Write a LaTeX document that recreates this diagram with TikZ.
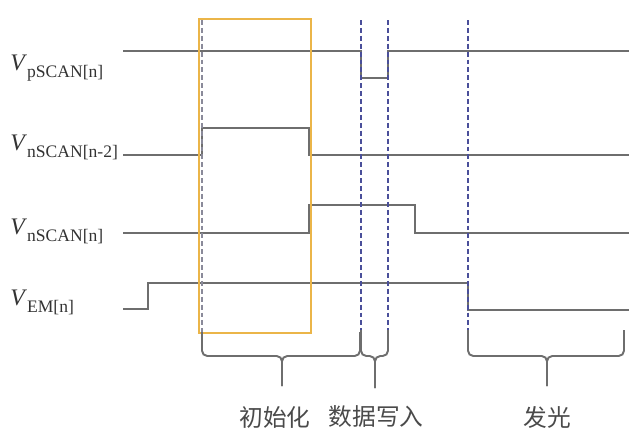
\documentclass[tikz,border=0pt]{standalone}
\usepackage{fontspec}
\setmainfont{Liberation Serif}
\newfontfamily\cjk{Noto Sans CJK SC}
\definecolor{sig}{HTML}{6E6E6E}
\definecolor{boxor}{HTML}{EBB548}
\definecolor{dnavy}{HTML}{4A4F9A}
\definecolor{dgray}{HTML}{8A8A9A}
\definecolor{lbl}{HTML}{4A4A4A}
\begin{document}
\begin{tikzpicture}[x=0.02cm,y=-0.02cm,
  signal/.style={draw=sig,line width=1.1pt},
  guide/.style={draw=dnavy,line width=1.1pt,dash pattern=on 2.8pt off 1.7pt},
  bracepath/.style={draw=sig,line width=1.1pt,rounded corners=3pt},
  vlabel/.style={anchor=base west,inner sep=0pt,text=black!80},
  phase/.style={font=\cjk\fontsize{13.5}{14}\selectfont,text=lbl,inner sep=0pt}]
\useasboundingbox (0,0) rectangle (642,436);
% signal labels
\newcommand{\siglabel}[1]{\fontsize{13.5}{13.5}\selectfont\textit{V}\raisebox{-4.2pt}{\fontsize{10}{10}\selectfont #1}}
\node[vlabel] (lp) at (10,70) {\siglabel{pSCAN[n]}};
\node[vlabel] (ln2) at (10,150) {\siglabel{nSCAN[n-2]}};
\node[vlabel] (ln) at (10,234) {\siglabel{nSCAN[n]}};
\node[vlabel] (lem) at (10,305) {\siglabel{EM[n]}};
% signals
\draw[signal] (123,51) -- (361,51) -- (361,78) -- (388,78) -- (388,51) -- (629,51);
\draw[signal] (123,155) -- (202,155) -- (202,128) -- (309,128) -- (309,155) -- (629,155);
\draw[signal] (123,233) -- (309,233) -- (309,205) -- (415,205) -- (415,233) -- (629,233);
\draw[signal] (123,309) -- (148,309) -- (148,283) -- (468,283) -- (468,310) -- (629,310);
% guide lines
\draw[guide,draw=dgray] (202,20) -- (202,332);
\draw[guide] (361,20) -- (361,330);
\draw[guide] (388,20) -- (388,330);
\draw[guide] (468,20) -- (468,330);
% orange box
\draw[boxor,line width=1.7pt] (199,19) rectangle (311,333);
% braces
\coordinate (b1) at (282,386);
\draw[bracepath] (202,332) -- (202,356) -- (282,356) -- (b1);
\draw[bracepath] (360,332) -- (360,356) -- (282,356) -- (b1);
\coordinate (b2) at (375,388);
\draw[bracepath] (361,330) -- (361,356) -- (375,356) -- (b2);
\draw[bracepath] (388,330) -- (388,356) -- (375,356) -- (b2);
\coordinate (b3) at (547,386);
\draw[bracepath] (468,330) -- (468,356) -- (547,356) -- (b3);
\draw[bracepath] (624,330) -- (624,356) -- (547,356) -- (b3);
% phase labels
\node[phase] (p1) at (275,417) {初始化};
\node[phase] (p2) at (376,417) {数据写入};
\node[phase] (p3) at (547,417) {发光};
\end{tikzpicture}
\end{document}
